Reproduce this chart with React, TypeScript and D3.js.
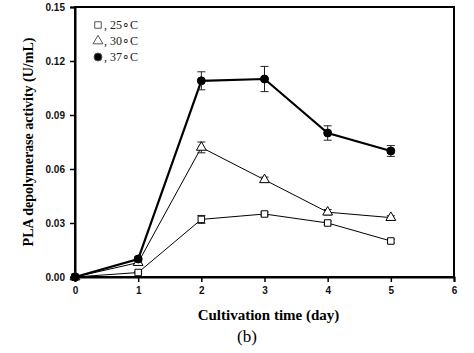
import { useRef, useEffect } from "react";
import * as d3 from "d3";

const days = [0, 1, 2, 3, 4, 5];
const temp25 = [0, 0.0025, 0.032, 0.035, 0.030, 0.020];
const err25 = [0, 0.0005, 0.0022, 0.001, 0.001, 0.001];
const temp30 = [0, 0.008, 0.072, 0.054, 0.036, 0.033];
const err30 = [0, 0.001, 0.003, 0.0015, 0.0015, 0.001];
const temp37 = [0, 0.010, 0.109, 0.110, 0.080, 0.070];
const err37 = [0, 0.001, 0.005, 0.007, 0.004, 0.003];
const xTicks = [0, 1, 2, 3, 4, 5, 6];
const yTicks = [0, 0.03, 0.06, 0.09, 0.12, 0.15];
const legendLabels = [", 25\u2218C", ", 30\u2218C", ", 37\u2218C"];

const width = 474;
const height = 353;
const margin = { top: 7, right: 20, bottom: 76, left: 75 };

const App = () => {
  const svgRef = useRef<SVGSVGElement>(null);

  useEffect(() => {
    const svg = d3.select(svgRef.current);
    svg.selectAll("*").remove();

    const x = d3
      .scaleLinear()
      .domain([0, 6])
      .range([margin.left, width - margin.right]);
    const y = d3
      .scaleLinear()
      .domain([0, 0.15])
      .range([height - margin.bottom, margin.top]);

    const tickFont = "Arial, 'Liberation Sans', sans-serif";
    const serif = "'Times New Roman', 'Liberation Serif', serif";

    // frame
    svg
      .append("rect")
      .attr("x", x(0))
      .attr("y", y(0.15))
      .attr("width", x(6) - x(0))
      .attr("height", y(0) - y(0.15))
      .attr("fill", "none")
      .attr("stroke", "#000")
      .attr("stroke-width", 2);

    const xAxis = svg
      .append("g")
      .attr("transform", `translate(0,${y(0)})`)
      .call(d3.axisBottom(x).tickValues(xTicks).tickFormat(d3.format("d")).tickSize(5).tickPadding(5));
    const yAxis = svg
      .append("g")
      .attr("transform", `translate(${x(0)},0)`)
      .call(d3.axisLeft(y).tickValues(yTicks).tickFormat(d3.format(".2f")).tickSize(5).tickPadding(5));
    [xAxis, yAxis].forEach((g) => {
      g.select(".domain").attr("stroke-width", 2);
      g.selectAll(".tick line").attr("stroke-width", 1.5);
      g.selectAll("text")
        .attr("font-family", tickFont)
        .attr("font-weight", "bold")
        .attr("font-size", 10)
        .attr("fill", "#111");
    });

    const series = [
      { vals: temp25, errs: err25, shape: "square", width: 1 },
      { vals: temp30, errs: err30, shape: "triangle", width: 1 },
      { vals: temp37, errs: err37, shape: "circle", width: 2.2 },
    ];

    const symbolFor = (shape: string) =>
      shape === "square"
        ? d3.symbol(d3.symbolSquare, 42)
        : shape === "triangle"
        ? d3.symbol(d3.symbolTriangle, 42)
        : d3.symbol(d3.symbolCircle, 50);

    series.forEach((s) => {
      const line = d3
        .line<number>()
        .x((_, i) => x(days[i]))
        .y((d) => y(d));
      svg
        .append("path")
        .datum(s.vals)
        .attr("d", line)
        .attr("fill", "none")
        .attr("stroke", "#000")
        .attr("stroke-width", s.width);

      // error bars
      s.vals.forEach((v, i) => {
        if (s.errs[i] <= 0) return;
        const g = svg.append("g").attr("stroke", "#222").attr("stroke-width", 1);
        const cx = x(days[i]);
        g.append("line").attr("x1", cx).attr("x2", cx).attr("y1", y(v - s.errs[i])).attr("y2", y(v + s.errs[i]));
        [v - s.errs[i], v + s.errs[i]].forEach((e) =>
          g.append("line").attr("x1", cx - 4).attr("x2", cx + 4).attr("y1", y(e)).attr("y2", y(e))
        );
      });

      svg
        .selectAll(null)
        .data(s.vals)
        .enter()
        .append("path")
        .attr("d", symbolFor(s.shape)())
        .attr("transform", (d, i) => `translate(${x(days[i])},${y(d)})`)
        .attr("fill", s.shape === "circle" ? "#000" : "#fff")
        .attr("stroke", "#000")
        .attr("stroke-width", 1);
    });

    // legend
    series.forEach((s, i) => {
      const ly = 25 + i * 16;
      svg
        .append("path")
        .attr("d", symbolFor(s.shape)())
        .attr("transform", `translate(98,${ly})`)
        .attr("fill", s.shape === "circle" ? "#000" : "#fff")
        .attr("stroke", "#555")
        .attr("stroke-width", 1);
      svg
        .append("text")
        .attr("x", 104)
        .attr("y", ly + 4)
        .attr("font-family", serif)
        .attr("font-size", 12)
        .attr("fill", "#222")
        .text(legendLabels[i]);
    });

    // axis titles
    svg
      .append("text")
      .attr("transform", `translate(33,${(y(0) + y(0.15)) / 2}) rotate(-90)`)
      .attr("text-anchor", "middle")
      .attr("font-family", serif)
      .attr("font-weight", "bold")
      .attr("font-size", 14)
      .text("PLA depolymerase activity (U/mL)");
    svg
      .append("text")
      .attr("x", (x(0) + x(6)) / 2 + 4)
      .attr("y", 320)
      .attr("text-anchor", "middle")
      .attr("font-family", serif)
      .attr("font-weight", "bold")
      .attr("font-size", 15)
      .text("Cultivation time (day)");
    svg
      .append("text")
      .attr("x", 247)
      .attr("y", 342)
      .attr("text-anchor", "middle")
      .attr("font-family", serif)
      .attr("font-size", 17)
      .text("(b)");
  }, []);

  return (
    <svg
      ref={svgRef}
      width={width}
      height={height}
      style={{ position: "absolute", left: 0, top: 0, background: "#fff" }}
    />
  );
};

export default App;
